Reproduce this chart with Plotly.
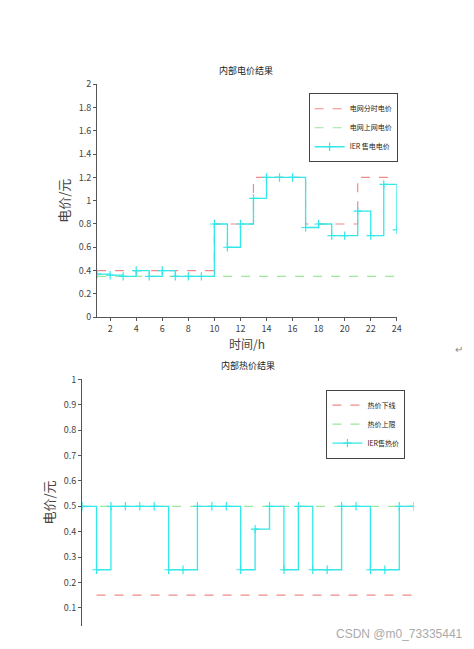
import plotly.graph_objects as go

hours = list(range(1, 25))

# top chart: electricity price
grid_tou = [0.4]*9 + [0.8]*3 + [1.2]*4 + [0.8]*4 + [1.2]*4
grid_feed = [0.35]*24
ier_elec = [0.37, 0.36, 0.35, 0.40, 0.35, 0.40, 0.35, 0.35, 0.35, 0.80, 0.60, 0.80,
            1.02, 1.20, 1.20, 1.20, 0.77, 0.80, 0.70, 0.70, 0.91, 0.70, 1.14, 0.75]

# bottom chart: heat price
heat_low_x = list(range(2, 25))
heat_low = [0.15]*23
heat_high = [0.5]*24
ier_heat = [0.5, 0.25, 0.5, 0.5, 0.5, 0.5, 0.25, 0.25, 0.5, 0.5, 0.5, 0.25,
            0.41, 0.5, 0.25, 0.5, 0.25, 0.25, 0.5, 0.5, 0.25, 0.25, 0.5, 0.5]

RED = "#f08a8a"
GREEN = "#9be89b"
CYAN = "#33e8e8"
FONT = "Noto Sans CJK SC"

fig = go.Figure()
fig.add_trace(go.Scatter(x=hours, y=grid_tou, mode="lines", line_shape="hv",
                         line=dict(color=RED, dash="dash", width=1.2), name="电网分时电价",
                         xaxis="x", yaxis="y", legend="legend"))
fig.add_trace(go.Scatter(x=hours, y=grid_feed, mode="lines",
                         line=dict(color=GREEN, dash="dash", width=1.2), name="电网上网电价",
                         xaxis="x", yaxis="y", legend="legend"))
fig.add_trace(go.Scatter(x=hours, y=ier_elec, mode="lines+markers", line_shape="hv",
                         line=dict(color=CYAN, width=1.3),
                         marker=dict(symbol="cross-thin", size=6, line=dict(color=CYAN, width=1.2)),
                         name="IER 售电电价", xaxis="x", yaxis="y", legend="legend"))

fig.add_trace(go.Scatter(x=heat_low_x, y=heat_low, mode="lines",
                         line=dict(color=RED, dash="dash", width=1.2), name="热价下线",
                         xaxis="x2", yaxis="y2", legend="legend2"))
fig.add_trace(go.Scatter(x=hours, y=heat_high, mode="lines",
                         line=dict(color=GREEN, dash="dash", width=1.2), name="热价上限",
                         xaxis="x2", yaxis="y2", legend="legend2"))
fig.add_trace(go.Scatter(x=hours, y=ier_heat, mode="lines+markers", line_shape="hv",
                         line=dict(color=CYAN, width=1.3),
                         marker=dict(symbol="cross-thin", size=6, line=dict(color=CYAN, width=1.2)),
                         name="IER售热价", xaxis="x2", yaxis="y2", legend="legend2"))

ax = dict(showgrid=False, zeroline=False, showline=True, linecolor="#555", ticks="outside",
          ticklen=3, tickcolor="#555", tickfont=dict(size=9, color="#444"))
leg = dict(bordercolor="#444", borderwidth=1, bgcolor="white",
           font=dict(size=7, family=FONT, color="#222"), xanchor="left", yanchor="top",
           tracegroupgap=0, itemwidth=30)

fig.update_layout(
    width=474, height=649, margin=dict(l=0, r=0, t=0, b=0),
    paper_bgcolor="white", plot_bgcolor="white", font=dict(family=FONT),
    xaxis=dict(ax, domain=[0.19, 0.829], range=[1, 24], tickvals=list(range(2, 25, 2)),
               anchor="y", title=dict(text="时间/h", font=dict(size=12, color="#444"), standoff=2)),
    yaxis=dict(ax, domain=[0.525, 0.891], range=[0, 2], dtick=0.2, anchor="x",
               title=dict(text="电价/元", font=dict(size=13, color="#444"), standoff=6)),
    xaxis2=dict(ax, domain=[0.158, 0.865], range=[1, 24], showticklabels=False, ticks="",
                showline=False, anchor="y2"),
    yaxis2=dict(ax, domain=[0.040, 0.427], range=[0.03, 1], tickvals=[0.1*i for i in range(1, 11)],
                ticktext=["0.1", "0.2", "0.3", "0.4", "0.5", "0.6", "0.7", "0.8", "0.9", "1"],
                anchor="x2", title=dict(text="电价/元", font=dict(size=13, color="#444"), standoff=6)),
    legend=dict(leg, x=0.641, y=0.877),
    legend2=dict(leg, x=0.679, y=0.411),
    annotations=[
        dict(text="内部电价结果", x=0.508, y=0.9, xref="paper", yref="paper", showarrow=False,
             yanchor="bottom", font=dict(size=9, color="#222")),
        dict(text="内部热价结果", x=0.512, y=0.435, xref="paper", yref="paper", showarrow=False,
             yanchor="bottom", font=dict(size=9, color="#222")),
        dict(text="↵", x=0.975, y=0.476, xref="paper", yref="paper", showarrow=False,
             font=dict(size=10, color="#888")),
        dict(text="CSDN @m0_73335441", x=0.975, y=0.012, xref="paper", yref="paper", showarrow=False,
             xanchor="right", yanchor="bottom", font=dict(size=12, color="#aaa", family="Liberation Sans")),
    ],
)

fig.write_html("out.html")
